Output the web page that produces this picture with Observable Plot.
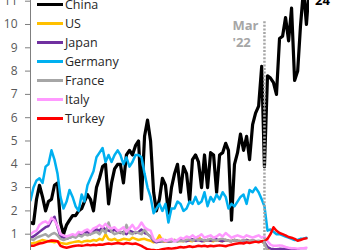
<!DOCTYPE html>
<html>
<head>
<meta charset="utf-8">
<script src="https://cdn.jsdelivr.net/npm/d3@7"></script>
<script src="https://cdn.jsdelivr.net/npm/@observablehq/plot@0.6"></script>
<style>
  html, body { margin: 0; padding: 0; background: #fff; }
  #wrap { position: relative; width: 350px; height: 250px; overflow: hidden; font-family: "Open Sans", sans-serif; }
  #legend { position: absolute; left: 37px; top: -5.5px; }
  .row { display: flex; align-items: center; height: 19px; font-size: 12.5px; color: #262626; }
  .sw { width: 26px; height: 3px; margin-right: 2px; }
</style>
</head>
<body>
<div id="wrap">
  <div id="chart"></div>
  <div id="legend"></div>
</div>
<script>
// Series (monthly-spaced samples)
const seriesNames = ["China", "US", "Japan", "Germany", "France", "Italy", "Turkey"];
const seriesColors = ["#000000", "#FFC000", "#7030A0", "#00B0F0", "#A6A6A6", "#FF99FF", "#FF0000"];
const seriesWidths = [3.2, 2.5, 2.5, 2.5, 2.5, 2.5, 2.5];

const china = [
  1.5,1.45,2.5,3.1,2.6,2.0,2.4,2.5,3.1,3.2,
  1.5,1.0,1.4,1.6,1.8,1.8,2.0,2.1,2.4,2.7,
  2.5,2.0,3.0,3.4,3.9,4.0,2.3,3.2,3.8,4.0,
  4.0,3.2,4.4,4.6,4.4,4.8,5.0,2.5,5.2,5.9,
  5.0,2.8,2.0,2.5,3.4,3.1,1.9,3.0,3.6,4.0,
  2.8,3.9,3.6,2.4,4.2,4.4,4.1,3.0,4.4,3.0,
  4.5,4.4,2.8,4.4,4.5,4.9,4.6,1.6,4.0,4.5,
  5.3,4.6,5.2,4.2,5.7,6.2,6.5,8.2,3.9,7.8,
  7.7,7.5,7.0,9.4,9.5,10.3,9.3,10.7,7.6,8.0,
  9.9,11.5,10.0,11.8
];
const us = [
  0.6,0.62,0.65,0.7,0.75,0.72,0.7,0.68,0.65,0.7,
  0.62,0.6,0.58,0.62,0.65,0.68,0.7,0.65,0.7,0.72,
  0.7,0.75,0.72,0.8,0.75,1.0,0.78,0.75,0.8,0.72,
  0.75,0.8,0.78,0.75,0.85,0.8,0.75,0.78,0.8,0.75,
  0.72,0.65,0.7,0.95,0.7,0.68,0.72,0.7,0.75,0.7,
  0.72,0.7,0.75,0.72,0.7,0.75,0.9,0.72,0.7,0.75,
  0.72,0.7,0.75,0.72,0.7,0.75,0.72,0.7,0.75,0.72,
  0.7,0.72,0.75,0.7,0.72,0.7,0.68,0.7,0.6,0.35,
  0.2,0.2,0.2,0.2,0.2,0.2,0.2,0.2,0.2,0.2,
  0.2,0.2,0.2,null
];
const japan = [
  0.85,0.9,1.0,1.1,1.2,1.3,1.35,1.6,1.75,1.3,
  0.9,0.85,0.8,0.85,0.9,0.95,1.0,0.95,1.05,1.1,
  1.0,1.1,1.2,1.15,1.3,1.2,1.15,1.1,1.2,1.1,
  1.05,1.1,1.0,1.15,1.1,1.05,1.1,1.2,1.05,1.0,
  0.9,0.7,0.65,0.68,0.7,0.72,0.68,0.7,0.72,0.7,
  0.75,0.72,0.7,0.75,0.78,0.72,0.75,0.7,0.72,0.75,
  0.72,0.75,0.78,0.72,0.7,0.75,0.72,0.7,0.75,0.72,
  0.7,0.72,0.75,0.7,0.72,0.7,0.68,0.7,0.65,0.45,
  0.38,0.36,0.35,0.37,0.36,0.38,0.35,0.33,0.32,0.3,
  0.28,0.28,0.28,null
];
const germany = [
  2.45,3.0,3.3,3.4,3.2,3.9,4.0,4.6,4.2,3.6,
  2.6,2.1,2.4,2.9,2.6,2.2,2.0,2.7,2.4,3.1,
  3.4,3.7,4.3,4.5,4.7,4.1,4.4,4.1,4.4,4.6,
  4.4,4.0,4.3,3.9,4.1,4.4,4.4,4.3,3.6,3.0,
  2.6,1.9,2.1,2.3,2.0,2.3,1.5,2.1,2.1,2.4,
  2.3,2.0,2.1,2.4,2.3,2.6,2.3,2.4,2.8,2.2,
  2.6,2.4,2.7,2.5,2.8,2.6,2.1,2.3,2.2,2.4,
  2.6,2.7,2.3,2.9,2.8,3.0,2.8,2.5,2.2,1.15,
  1.2,1.1,1.0,1.0,0.95,0.9,0.85,0.8,0.75,0.75,
  0.8,0.8,0.85,null
];
const france = [
  0.8,0.75,0.85,0.9,0.95,1.0,0.9,1.0,1.05,0.95,
  0.8,0.75,0.8,0.85,0.9,0.85,0.95,0.9,1.0,0.95,
  1.0,1.05,1.1,1.0,1.2,1.05,1.5,1.1,1.0,1.05,
  1.1,1.0,1.4,1.05,1.0,1.1,1.05,1.0,1.2,1.0,
  0.9,0.75,0.7,0.72,0.7,0.75,0.7,0.72,0.75,0.7,
  0.72,0.7,0.75,0.78,0.72,0.8,0.75,0.78,0.72,0.75,
  0.8,0.75,0.72,0.78,0.8,0.75,0.72,0.7,0.75,0.72,
  0.7,0.75,0.72,0.7,0.75,0.7,0.72,0.7,0.6,0.3,
  0.2,0.2,0.22,0.2,0.2,0.2,0.2,0.2,0.2,0.2,
  0.2,0.2,0.2,null
];
const italy = [
  1.0,1.1,1.15,1.4,1.5,1.55,1.45,1.7,1.6,1.35,
  1.0,0.95,0.9,0.95,1.0,0.95,1.1,1.05,1.15,1.2,
  1.1,1.25,1.3,1.4,1.3,1.45,1.3,1.25,1.3,1.15,
  1.2,1.3,1.1,1.25,1.4,1.2,1.3,1.5,1.3,1.2,
  1.15,0.8,0.7,0.75,0.8,0.7,0.75,0.8,0.7,0.75,
  0.85,0.8,0.9,0.85,0.95,0.85,0.9,1.0,0.85,0.9,
  0.95,0.85,0.9,1.0,0.9,1.05,0.95,0.85,0.9,0.95,
  0.9,0.85,0.95,0.9,0.85,0.9,0.95,0.85,0.9,0.7,
  0.55,0.5,0.5,0.52,0.5,0.45,0.42,0.4,0.4,0.38,
  0.4,0.4,0.42,null
];
const turkey = [
  0.5,0.5,0.55,0.6,0.62,0.66,0.7,0.73,0.72,0.7,
  0.5,0.45,0.42,0.45,0.48,0.5,0.52,0.5,0.52,0.55,
  0.52,0.55,0.53,0.56,0.55,0.58,0.6,0.58,0.6,0.62,
  0.6,0.58,0.62,0.6,0.58,0.6,0.55,0.5,0.42,0.35,
  0.33,0.32,0.3,0.32,0.35,0.38,0.4,0.38,0.4,0.42,
  0.45,0.43,0.45,0.48,0.45,0.47,0.5,0.48,0.5,0.47,
  0.5,0.48,0.5,0.52,0.5,0.48,0.52,0.55,0.58,0.6,
  0.62,0.6,0.65,0.62,0.65,0.68,0.65,0.7,0.72,0.8,
  1.0,1.3,1.15,1.05,1.0,0.95,0.88,0.85,0.8,0.72,
  0.75,0.8,0.82,null
];
const yTicks = [1, 2, 3, 4, 5, 6, 7, 8, 9, 10, 11];
const eventLabel = "Mar\n'22";
const cornerLabel = "24";

const seriesValues = [china, us, japan, germany, france, italy, turkey];
const start = new Date(Date.UTC(2015, 8, 1));
const dateAt = i => d3.utcMonth.offset(start, i);
const eventDate = new Date(Date.UTC(2022, 2, 1));

const rows = [];
seriesNames.forEach((name, s) => {
  seriesValues[s].forEach((v, i) => rows.push({series: name, date: dateAt(i), value: v}));
});
const lastDate = dateAt(china.length - 1);

const lineMarks = seriesNames.map((name, s) =>
  Plot.line(rows.filter(d => d.series === name), {
    x: "date", y: "value", stroke: seriesColors[s], strokeWidth: seriesWidths[s],
    strokeLinejoin: "round", clip: true, defined: d => d.value != null
  })
);

const chart = Plot.plot({
  width: 350,
  height: 250,
  marginLeft: 30,
  marginRight: 41,
  marginTop: 0,
  marginBottom: 0,
  style: {fontFamily: "Open Sans, sans-serif", background: "white"},
  x: {type: "utc", domain: [start, lastDate], axis: null},
  y: {domain: [0.3, 11.03], label: null},
  marks: [
    ...lineMarks,
    Plot.ruleX([eventDate], {y1: 0.3, y2: 10.17, stroke: "#A6A6A6", strokeWidth: 2.5, strokeDasharray: "2,1.6"}),
    Plot.text([eventDate], {x: d => d, y: 10.2, text: () => eventLabel, textAnchor: "start", lineAnchor: "top", dx: -32, dy: -2, fill: "#A6A6A6", fontWeight: "bold", fontSize: 13, lineHeight: 1.3}),
    Plot.text([lastDate], {x: d => d, y: 11.03, text: () => cornerLabel, textAnchor: "middle", lineAnchor: "bottom", dx: 13, dy: 4, fill: "#000", fontWeight: "bold", fontSize: 13}),
    Plot.axisY({ticks: yTicks, tickFormat: d => String(d), tickSize: 5, tickPadding: 8, fontSize: 12, color: "#595959", stroke: "#7f7f7f", label: null}),
    Plot.frame({anchor: "left", stroke: "#7f7f7f", strokeWidth: 1})
  ]
});
document.getElementById("chart").appendChild(chart);

const legend = document.getElementById("legend");
seriesNames.forEach((name, s) => {
  const row = document.createElement("div");
  row.className = "row";
  const sw = document.createElement("span");
  sw.className = "sw";
  sw.style.background = seriesColors[s];
  const lab = document.createElement("span");
  lab.textContent = name;
  row.appendChild(sw);
  row.appendChild(lab);
  legend.appendChild(row);
});
</script>
</body>
</html>
